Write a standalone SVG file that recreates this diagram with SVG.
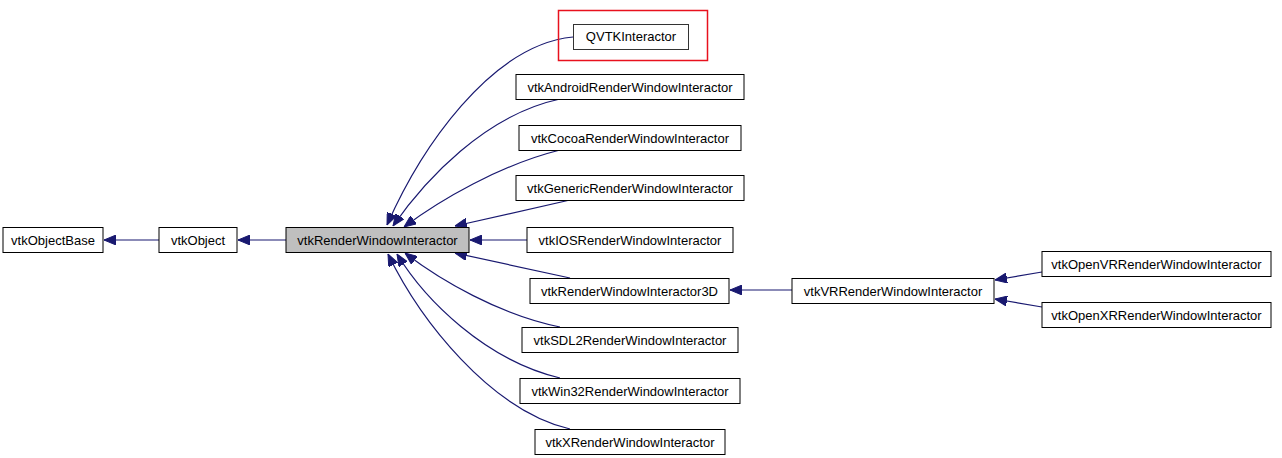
<svg xmlns="http://www.w3.org/2000/svg" width="1282" height="458" viewBox="0 0 1282 458">
<style>
.n rect{fill:#fff;stroke:#000;stroke-width:1}
.n text{font-family:"Liberation Sans",Arial,sans-serif;font-size:13px;text-anchor:middle;fill:#000}
#edges path{fill:none;stroke:#191970;stroke-width:1.2;marker-end:url(#a)}
</style>
<defs><marker id="a" viewBox="0 0 12 10" refX="12" refY="5" markerWidth="12" markerHeight="10" markerUnits="userSpaceOnUse" orient="auto"><path d="M0,0 L12,5 L0,10 Z" fill="#191970" stroke="#191970"/></marker></defs>
<rect width="1282" height="458" fill="#fff"/>
<g id="edges">
<path d="M159,240 L104,240"/>
<path d="M286,240 L238,240"/>
<path d="M573,37 C490,45 420,150 387,225"/>
<path d="M560,99 C485,115 425,180 393,226"/>
<path d="M560,150 C500,165 440,200 404,227"/>
<path d="M570,200 L455,226"/>
<path d="M527,240 L470,240"/>
<path d="M570,278 L455,253"/>
<path d="M560,327 C500,315 440,280 405,253"/>
<path d="M560,378 C485,360 425,300 397,254"/>
<path d="M570,429 C490,410 420,320 388,254"/>
<path d="M792,290 L730,290"/>
<path d="M1042,272 L995,280"/>
<path d="M1042,307 L995,299"/>
</g>
<g id="n0" class="n"><rect x="3" y="227.5" width="100" height="25"/><text x="53" y="244.5">vtkObjectBase</text></g>
<g id="n1" class="n"><rect x="159" y="227.5" width="78" height="25"/><text x="198" y="244.5">vtkObject</text></g>
<g id="n2" class="n"><rect x="286" y="227.5" width="183" height="25" style="fill:#bfbfbf"/><text x="377.5" y="244.5">vtkRenderWindowInteractor</text></g>
<g id="hl"><rect x="558.5" y="10.5" width="149" height="50" fill="none" stroke="#e8111d" stroke-width="1.5"/></g>
<g id="n3" class="n"><rect x="573.5" y="24.5" width="115" height="25" style="stroke:#333"/><text x="631" y="41">QVTKInteractor</text></g>
<g id="n4" class="n"><rect x="516" y="74.5" width="228" height="25"/><text x="630" y="91.5">vtkAndroidRenderWindowInteractor</text></g>
<g id="n5" class="n"><rect x="519" y="125.5" width="222" height="25"/><text x="630" y="142.5">vtkCocoaRenderWindowInteractor</text></g>
<g id="n6" class="n"><rect x="516" y="175.5" width="228" height="25"/><text x="630" y="192.5">vtkGenericRenderWindowInteractor</text></g>
<g id="n7" class="n"><rect x="527" y="227.5" width="206" height="25"/><text x="630" y="244.5">vtkIOSRenderWindowInteractor</text></g>
<g id="n8" class="n"><rect x="530" y="278.5" width="199" height="25"/><text x="629.5" y="295.5">vtkRenderWindowInteractor3D</text></g>
<g id="n9" class="n"><rect x="522" y="327.5" width="216" height="25"/><text x="630" y="344.5">vtkSDL2RenderWindowInteractor</text></g>
<g id="n10" class="n"><rect x="520" y="378.5" width="220" height="25"/><text x="630" y="395.5">vtkWin32RenderWindowInteractor</text></g>
<g id="n11" class="n"><rect x="535" y="429.5" width="190" height="25"/><text x="630" y="446.5">vtkXRenderWindowInteractor</text></g>
<g id="n12" class="n"><rect x="792" y="278.5" width="202" height="25"/><text x="893" y="295.5">vtkVRRenderWindowInteractor</text></g>
<g id="n13" class="n"><rect x="1042" y="251.5" width="229" height="25"/><text x="1156.5" y="268.5">vtkOpenVRRenderWindowInteractor</text></g>
<g id="n14" class="n"><rect x="1042" y="302.5" width="229" height="25"/><text x="1156.5" y="319.5">vtkOpenXRRenderWindowInteractor</text></g>
</svg>
